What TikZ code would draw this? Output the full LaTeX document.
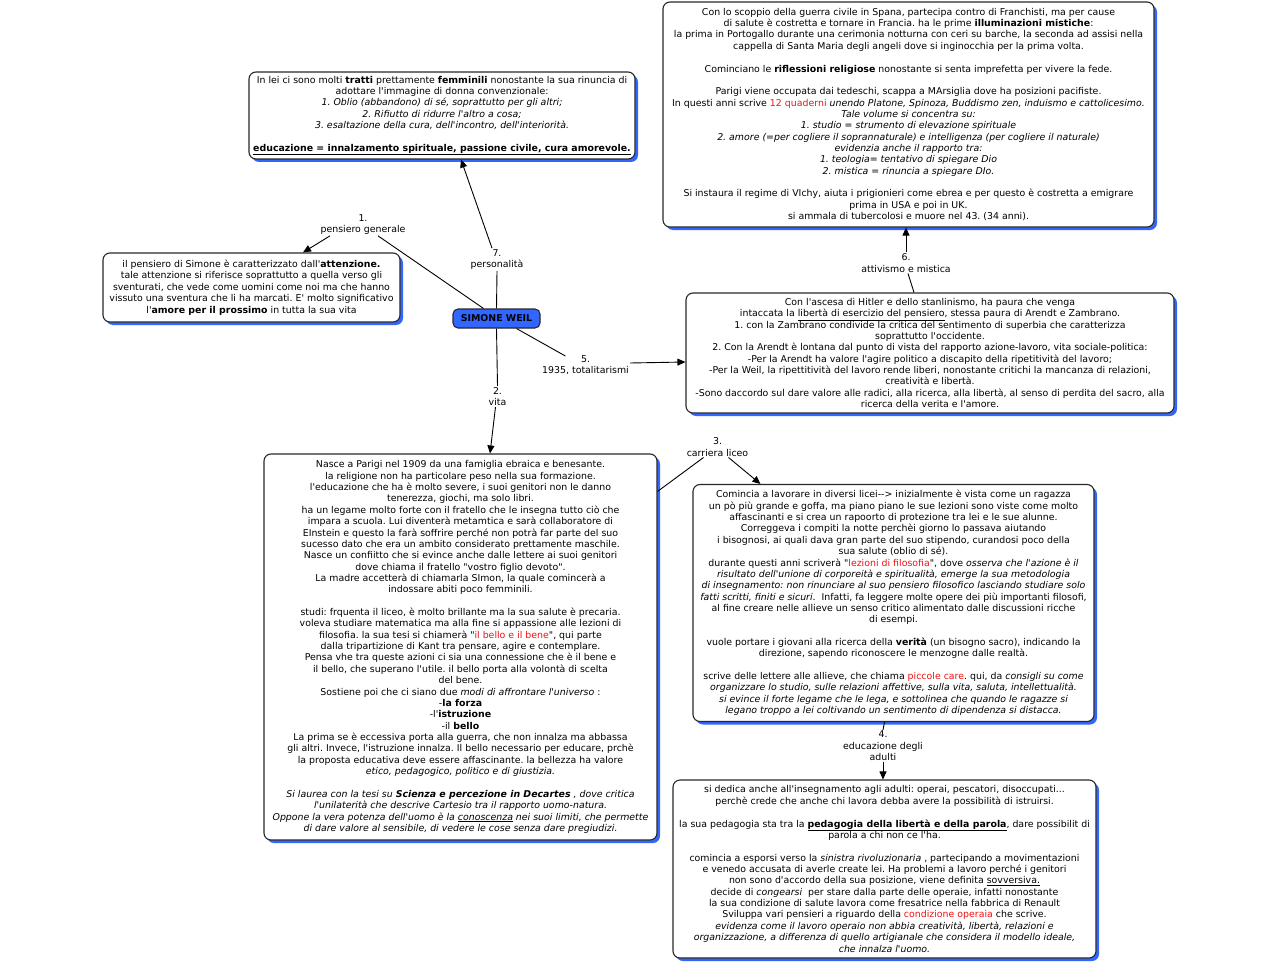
\documentclass[tikz,border=0pt]{standalone}
\usepackage{fontspec}
\newfontfamily\dv{DejaVu Sans}
\usetikzlibrary{arrows.meta,shadows}
\definecolor{shblue}{RGB}{51,102,255}
\definecolor{nodeblue}{RGB}{51,102,255}
\definecolor{txtred}{RGB}{240,20,20}
\definecolor{bord}{RGB}{40,40,40}
\newcommand{\rdt}[1]{\textcolor{txtred}{#1}}
\begin{document}
\frenchspacing
\begin{tikzpicture}[x=1pt,y=-1pt,
  box/.style={draw=bord, line width=1.1pt, rounded corners=7pt, fill=white, align=center, inner sep=0pt,
     font=\dv\fontsize{9.4}{11.36}\selectfont,
     drop shadow={shadow xshift=3pt, shadow yshift=-3pt, fill=shblue, opacity=1}},
  lab/.style={align=center, inner sep=1pt, font=\dv\fontsize{9.4}{11.5}\selectfont},
  conn/.style={draw=black, line width=0.9pt},
  arr/.style={conn, -{Triangle[length=8pt,width=7pt]}},
  hub/.style={draw=bord, line width=1.1pt, rounded corners=5pt, fill=nodeblue, inner sep=0pt,
     font=\dv\bfseries\fontsize{9.4}{11}\selectfont}
]
\useasboundingbox[fill=white] (0,0) rectangle (1280,963);

% top right box
\node[box, minimum width=491pt, minimum height=225pt] (t6) at (908.5,114.5) {%
Con lo scoppio della guerra civile in Spana, partecipa contro di Franchisti, ma per cause\\
di salute è costretta e tornare in Francia. ha le prime \textbf{illuminazioni mistiche}:\\
la prima in Portogallo durante una cerimonia notturna con ceri su barche, la seconda ad assisi nella\\
cappella di Santa Maria degli angeli dove si inginocchia per la prima volta.\\
\mbox{}\\
Cominciano le \textbf{riflessioni religiose} nonostante si senta imprefetta per vivere la fede.\\
\mbox{}\\
Parigi viene occupata dai tedeschi, scappa a MArsiglia dove ha posizioni pacifiste.\\
In questi anni scrive \rdt{12 quaderni} \textit{unendo Platone, Spinoza, Buddismo zen, induismo e cattolicesimo.}\\
\textit{Tale volume si concentra su:}\\
\textit{1. studio = strumento di elevazione spirituale}\\
\textit{2. amore (=per cogliere il soprannaturale) e intelligenza (per cogliere il naturale)}\\
\textit{evidenzia anche il rapporto tra:}\\
\textit{1. teologia= tentativo di spiegare Dio}\\
\textit{2. mistica = rinuncia a spiegare DIo.}\\
\mbox{}\\
Si instaura il regime di VIchy, aiuta i prigionieri come ebrea e per questo è costretta a emigrare\\
prima in USA e poi in UK.\\
si ammala di tubercolosi e muore nel 43. (34 anni).};

% top left box
\node[box, minimum width=386pt, minimum height=87pt] (t7) at (442,115.5) {%
In lei ci sono molti \textbf{tratti} prettamente \textbf{femminili} nonostante la sua rinuncia di\\
adottare l'immagine di donna convenzionale:\\
\textit{1. Oblio (abbandono) di sé, soprattutto per gli altri;}\\
\textit{2. Rifiutto di ridurre l'altro a cosa;}\\
\textit{3. esaltazione della cura, dell'incontro, dell'interiorità.}\\
\mbox{}\\
\textbf{\underline{educazione = innalzamento spirituale, passione civile, cura amorevole.}}};

% left box
\node[box, minimum width=297pt, minimum height=69pt] (t1) at (251.5,287.5) {%
il pensiero di Simone è caratterizzato dall'\textbf{attenzione.}\\
tale attenzione si riferisce soprattutto a quella verso gli\\
sventurati, che vede come uomini come noi ma che hanno\\
vissuto una sventura che li ha marcati. E' molto significativo\\
l'\textbf{amore per il prossimo} in tutta la sua vita};

% centre
\node[hub, minimum width=87pt, minimum height=19pt] (sw) at (496.5,318.5) {SIMONE WEIL};

% middle right box
\node[box, minimum width=488pt, minimum height=120pt] (t5) at (930,353) {%
Con l'ascesa di Hitler e dello stanlinismo, ha paura che venga\\
intaccata la \underline{libertà di esercizio del pensiero}, stessa paura di Arendt e Zambrano.\\
1. con la Zambrano condivide la critica del sentimento di superbia che caratterizza\\
soprattutto l'occidente.\\
2. Con la Arendt è lontana dal punto di vista del rapporto azione-lavoro, vita sociale-politica:\\
-Per la Arendt ha valore l'agire politico a discapito della ripetitività del lavoro;\\
-Per la Weil, la ripettitività del lavoro rende liberi, nonostante critichi la mancanza di relazioni,\\
creatività e libertà.\\
-Sono daccordo sul dare valore alle radici, alla ricerca, alla libertà, al senso di perdita del sacro, alla\\
ricerca della verita e l'amore.};

% big left box
\node[box, minimum width=393pt, minimum height=386pt] (t2) at (460.5,647) {%
Nasce a Parigi nel 1909 da una famiglia ebraica e benesante.\\
la religione non ha particolare peso nella sua formazione.\\
l'educazione che ha è molto severe, i suoi genitori non le danno\\
tenerezza, giochi, ma solo libri.\\
ha un legame molto forte con il fratello che le insegna tutto ciò che\\
impara a scuola. Lui diventerà metamtica e sarà collaboratore di\\
EInstein e questo la farà soffrire perché non potrà far parte del suo\\
sucesso dato che era un ambito considerato prettamente maschile.\\
Nasce un confiitto che si evince anche dalle lettere ai suoi genitori\\
dove chiama il fratello "vostro figlio devoto".\\
La madre accetterà di chiamarla SImon, la quale comincerà a\\
indossare abiti poco femminili.\\
\mbox{}\\
studi: frquenta il liceo, è molto brillante ma la sua salute è precaria.\\
voleva studiare matematica ma alla fine si appassione alle lezioni di\\
filosofia. la sua tesi si chiamerà "\rdt{il bello e il bene}", qui parte\\
dalla tripartizione di Kant tra pensare, agire e contemplare.\\
Pensa vhe tra queste azioni ci sia una connessione che è il bene e\\
il bello, che superano l'utile. il bello porta alla volontà di scelta\\
del bene.\\
Sostiene poi che ci siano due \textit{modi di affrontare l'universo} :\\
-\textbf{la forza}\\
-l'\textbf{istruzione}\\
-il \textbf{bello}\\
La prima se è eccessiva porta alla guerra, che non innalza ma abbassa\\
gli altri. Invece, l'istruzione innalza. Il bello necessario per educare, prchè\\
la proposta educativa deve essere affascinante. la bellezza ha valore\\
\textit{etico, pedagogico, politico e di giustizia.}\\
\mbox{}\\
\textit{Si laurea con la tesi su \textbf{Scienza e percezione in Decartes} , dove critica}\\
\textit{l'unilaterità che descrive Cartesio tra il rapporto uomo-natura.}\\
\textit{Oppone la vera potenza dell'uomo è la \underline{conoscenza} nei suoi limiti, che permette}\\
\textit{di dare valore al sensibile, di vedere le cose senza dare pregiudizi.}};

% right middle box
\node[box, minimum width=401pt, minimum height=237pt] (t3) at (893.5,603) {%
Comincia a lavorare in diversi licei--> inizialmente è vista come un ragazza\\
un pò più grande e goffa, ma piano piano le sue lezioni sono viste come molto\\
affascinanti e si crea un rapoorto di protezione tra lei e le sue alunne.\\
Correggeva i compiti la notte perchèi giorno lo passava aiutando\\
i bisognosi, ai quali dava gran parte del suo stipendo, curandosi poco della\\
sua salute (oblio di sé).\\
durante questi anni scriverà "\rdt{lezioni di filosofia}", dove \textit{osserva che l'azione è il}\\
\textit{risultato dell'unione di corporeità e spiritualità, emerge la sua metodologia}\\
\textit{di insegnamento: non rinunciare al suo pensiero filosofico lasciando studiare solo}\\
\textit{fatti scritti, finiti e sicuri}.\ \ Infatti, fa leggere molte opere dei più importanti filosofi,\\
al fine creare nelle allieve un senso critico alimentato dalle discussioni ricche\\
di esempi.\\
\mbox{}\\
vuole portare i giovani alla ricerca della \textbf{verità} (un bisogno sacro), indicando la\\
direzione, sapendo riconoscere le menzogne dalle realtà.\\
\mbox{}\\
scrive delle lettere alle allieve, che chiama \rdt{piccole care}. qui, da \textit{consigli su come}\\
\textit{organizzare lo studio, sulle relazioni affettive, sulla vita, saluta, intellettualità.}\\
\textit{si evince il forte legame che le lega, e sottolinea che quando le ragazze si}\\
\textit{legano troppo a lei coltivando un sentimento di dipendenza si distacca.}};

% bottom right box
\node[box, minimum width=423pt, minimum height=178pt] (t4) at (884.5,869) {%
si dedica anche all'insegnamento agli adulti: operai, pescatori, disoccupati...\\
perchè crede che anche chi lavora debba avere la possibilità di istruirsi.\\
\mbox{}\\
la sua pedagogia sta tra la \textbf{\underline{pedagogia della libertà e della parola}}, dare possibilit di\\
parola a chi non ce l'ha.\\
\mbox{}\\
comincia a esporsi verso la \textit{sinistra rivoluzionaria} , partecipando a movimentazioni\\
e venedo accusata di averle create lei. Ha problemi a lavoro perché i genitori\\
non sono d'accordo della sua posizione, viene definita \underline{sovversiva.}\\
decide di \textit{congearsi}\ \ per stare dalla parte delle operaie, infatti nonostante\\
la sua condizione di salute lavora come fresatrice nella fabbrica di Renault\\
Sviluppa vari pensieri a riguardo della \rdt{condizione operaia} che scrive.\\
\textit{evidenza come il lavoro operaio non abbia creatività, libertà, relazioni e}\\
\textit{organizzazione, a differenza di quello artigianale che considera il modello ideale,}\\
\textit{che innalza l'uomo.}};

% labels
\node[lab] (l1) at (363,224.5) {1.\\pensiero generale};
\node[lab] (l7) at (497,259.5) {7.\\personalità};
\node[lab] (l5) at (585.5,365) {5.\\1935, totalitarismi};
\node[lab] (l2) at (497.5,396.5) {2.\\vita};
\node[lab] (l3) at (717.5,447) {3.\\carriera liceo};
\node[lab] (l4) at (883,746) {4.\\educazione degli\\adulti};
\node[lab] (l6) at (906,263) {6.\\attivismo e mistica};

% connectors
\draw[conn] ([xshift=-13pt]sw.north) -- ([xshift=15pt]l1.south);
\draw[arr] ([xshift=-33pt]l1.south) -- ([xshift=51.5pt]t1.north);
\draw[conn] (sw.north) -- (l7.south);
\draw[arr] ([xshift=-5pt]l7.north) -- ([xshift=19pt]t7.south);
\draw[conn] ([xshift=20pt]sw.south) -- ([xshift=-20pt,yshift=-2pt]l5.north);
\draw[arr] ([yshift=2pt]l5.east) -- ([yshift=-9pt]t5.west);
\draw[conn] (sw.south) -- (l2.north);
\draw[arr] ([xshift=-2pt]l2.south) -- ([xshift=29.5pt]t2.north);
\draw[conn] ([yshift=-38pt]t2.north east) -- ([xshift=-14pt]l3.south);
\draw[arr] ([xshift=11pt]l3.south) -- ([xshift=68pt]t3.north west);
\draw[conn] ([xshift=-9pt]t3.south) -- (l4.north);
\draw[arr] (l4.south) -- (l4.south |- t4.north);
\draw[conn] ([xshift=-16pt]t5.north) -- ([xshift=2pt]l6.south);
\draw[arr] (l6.north) -- (l6.north |- t6.south);
\end{tikzpicture}
\end{document}
